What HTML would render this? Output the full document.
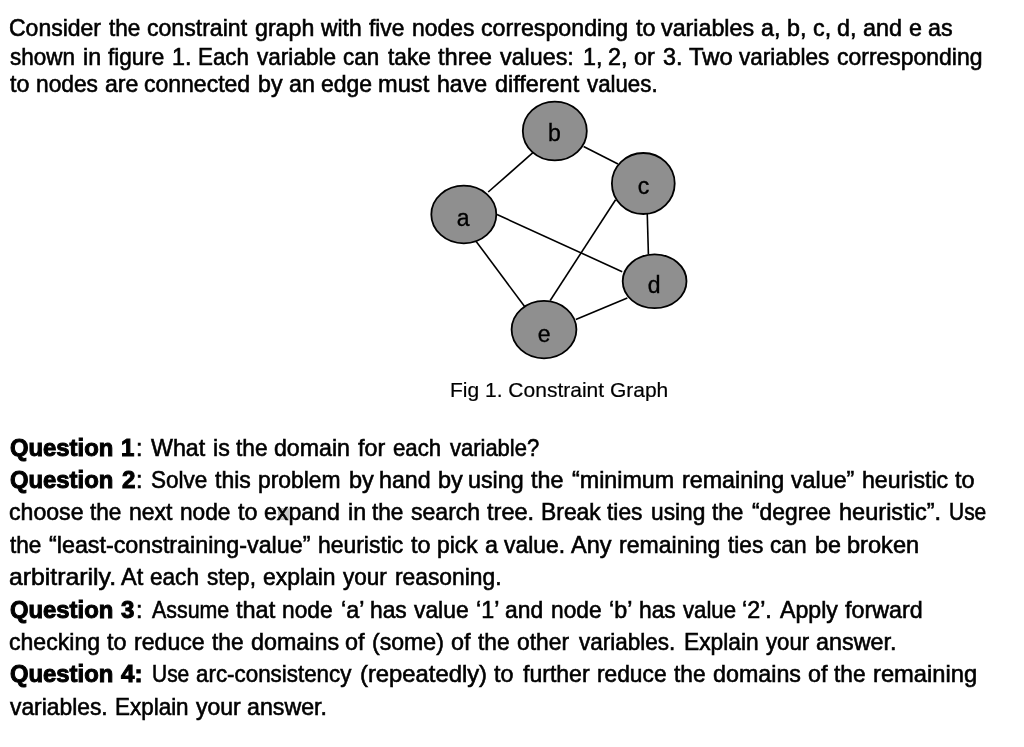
<!DOCTYPE html>
<html><head><meta charset="utf-8">
<style>
html,body{margin:0;padding:0;background:#fff;width:1024px;height:747px;overflow:hidden;position:relative}
.l{position:absolute;white-space:pre;font-family:"Liberation Sans",sans-serif;font-size:24px;line-height:24px;color:#000;transform-origin:0 0;-webkit-text-stroke:0.6px #000}
.b{font-weight:bold;-webkit-text-stroke:1px #000}
svg{position:absolute;left:0;top:0}
.hl{position:absolute;left:278px;top:507.8px;width:11px;height:12.7px;background:#c8c8c8}
</style></head><body>
<div class="hl"></div>
<div id="tx" style="position:absolute;left:0;top:0;width:1024px;height:747px;will-change:transform">
<div class="l" style="left:9.04px;top:15.88px;transform:scaleX(0.9579)">Consider</div>
<div class="l" style="left:109.00px;top:15.88px;transform:scaleX(0.9394)">the</div>
<div class="l" style="left:147.04px;top:15.88px;transform:scaleX(0.9615)">constraint</div>
<div class="l" style="left:255.03px;top:15.88px;transform:scaleX(0.9661)">graph</div>
<div class="l" style="left:321.00px;top:15.88px;transform:scaleX(0.9524)">with</div>
<div class="l" style="left:369.00px;top:15.88px;transform:scaleX(0.9459)">five</div>
<div class="l" style="left:412.05px;top:15.88px;transform:scaleX(0.9531)">nodes</div>
<div class="l" style="left:481.03px;top:15.88px;transform:scaleX(0.9667)">corresponding</div>
<div class="l" style="left:636.00px;top:15.88px;transform:scaleX(0.9708)">to</div>
<div class="l" style="left:661.00px;top:15.88px;transform:scaleX(0.9688)">variables</div>
<div class="l" style="left:761.03px;top:15.88px;transform:scaleX(0.9708)">a,</div>
<div class="l" style="left:787.03px;top:15.88px;transform:scaleX(0.9708)">b,</div>
<div class="l" style="left:813.03px;top:15.88px;transform:scaleX(0.9708)">c,</div>
<div class="l" style="left:837.03px;top:15.88px;transform:scaleX(0.9708)">d,</div>
<div class="l" style="left:863.03px;top:15.88px;transform:scaleX(0.9737)">and</div>
<div class="l" style="left:909.03px;top:15.88px;transform:scaleX(0.9708)">e</div>
<div class="l" style="left:928.03px;top:15.88px;transform:scaleX(0.9708)">as</div>
<div class="l" style="left:10.00px;top:44.58px;transform:scaleX(0.9353)">shown</div>
<div class="l" style="left:82.63px;top:44.58px;transform:scaleX(0.9710)">in</div>
<div class="l" style="left:107.81px;top:44.58px;transform:scaleX(0.9379)">figure</div>
<div class="l" style="left:172.12px;top:44.58px;transform:scaleX(0.9710)">1.</div>
<div class="l" style="left:197.87px;top:44.58px;transform:scaleX(0.9312)">Each</div>
<div class="l" style="left:257.15px;top:44.58px;transform:scaleX(0.9409)">variable</div>
<div class="l" style="left:343.25px;top:44.58px;transform:scaleX(0.9329)">can</div>
<div class="l" style="left:387.70px;top:44.58px;transform:scaleX(0.9467)">take</div>
<div class="l" style="left:438.47px;top:44.58px;transform:scaleX(0.9871)">three</div>
<div class="l" style="left:499.78px;top:44.58px;transform:scaleX(0.9704)">values:</div>
<div class="l" style="left:582.59px;top:44.58px;transform:scaleX(0.9710)">1,</div>
<div class="l" style="left:608.13px;top:44.58px;transform:scaleX(0.9710)">2,</div>
<div class="l" style="left:633.68px;top:44.58px;transform:scaleX(0.9710)">or</div>
<div class="l" style="left:663.26px;top:44.58px;transform:scaleX(0.9710)">3.</div>
<div class="l" style="left:688.80px;top:44.58px;transform:scaleX(0.9932)">Two</div>
<div class="l" style="left:739.30px;top:44.58px;transform:scaleX(0.9401)">variables</div>
<div class="l" style="left:836.59px;top:44.58px;transform:scaleX(0.9564)">corresponding</div>
<div class="l" style="left:10.00px;top:71.98px;transform:scaleX(0.9674)">to</div>
<div class="l" style="left:35.92px;top:71.98px;transform:scaleX(0.9479)">nodes</div>
<div class="l" style="left:104.57px;top:71.98px;transform:scaleX(0.9638)">are</div>
<div class="l" style="left:144.38px;top:71.98px;transform:scaleX(0.9582)">connected</div>
<div class="l" style="left:257.82px;top:71.98px;transform:scaleX(0.9674)">by</div>
<div class="l" style="left:288.67px;top:71.98px;transform:scaleX(0.9674)">an</div>
<div class="l" style="left:320.53px;top:71.98px;transform:scaleX(0.9561)">edge</div>
<div class="l" style="left:378.22px;top:71.98px;transform:scaleX(0.9843)">must</div>
<div class="l" style="left:436.60px;top:71.98px;transform:scaleX(0.9644)">have</div>
<div class="l" style="left:494.78px;top:71.98px;transform:scaleX(0.9750)">different</div>
<div class="l" style="left:586.60px;top:71.98px;transform:scaleX(0.9280)">values.</div>
<div class="l b" style="left:10.10px;top:435.68px;transform:scaleX(0.9932)">Question</div>
<div class="l b" style="left:120.60px;top:435.68px;transform:scaleX(1.0008)">1</div>
<div class="l" style="left:135.66px;top:435.68px;transform:scaleX(0.9691)">:</div>
<div class="l" style="left:151.40px;top:435.68px;transform:scaleX(0.9682)">What</div>
<div class="l" style="left:212.65px;top:435.68px;transform:scaleX(0.9691)">is</div>
<div class="l" style="left:235.70px;top:435.68px;transform:scaleX(0.9436)">the</div>
<div class="l" style="left:273.87px;top:435.68px;transform:scaleX(0.9645)">domain</div>
<div class="l" style="left:358.20px;top:435.68px;transform:scaleX(0.9691)">for</div>
<div class="l" style="left:392.97px;top:435.68px;transform:scaleX(0.9260)">each</div>
<div class="l" style="left:450.20px;top:435.68px;transform:scaleX(0.9155)">variable?</div>
<div class="l b" style="left:10.10px;top:468.48px;transform:scaleX(0.9932)">Question</div>
<div class="l b" style="left:121.80px;top:468.48px;transform:scaleX(1.0040)">2</div>
<div class="l" style="left:135.64px;top:468.48px;transform:scaleX(0.9787)">:</div>
<div class="l" style="left:150.86px;top:468.48px;transform:scaleX(0.9375)">Solve</div>
<div class="l" style="left:215.11px;top:468.48px;transform:scaleX(0.9602)">this</div>
<div class="l" style="left:257.69px;top:468.48px;transform:scaleX(0.9531)">problem</div>
<div class="l" style="left:348.68px;top:468.48px;transform:scaleX(0.9787)">by</div>
<div class="l" style="left:379.36px;top:468.48px;transform:scaleX(0.9680)">hand</div>
<div class="l" style="left:437.72px;top:468.48px;transform:scaleX(0.9787)">by</div>
<div class="l" style="left:468.39px;top:468.48px;transform:scaleX(0.9698)">using</div>
<div class="l" style="left:530.70px;top:468.48px;transform:scaleX(0.9697)">the</div>
<div class="l" style="left:572.10px;top:468.48px;transform:scaleX(0.9704)">“minimum</div>
<div class="l" style="left:682.05px;top:468.48px;transform:scaleX(0.9702)">remaining</div>
<div class="l" style="left:790.95px;top:468.48px;transform:scaleX(0.9685)">value”</div>
<div class="l" style="left:861.94px;top:468.48px;transform:scaleX(0.9636)">heuristic</div>
<div class="l" style="left:955.30px;top:468.48px;transform:scaleX(0.9787)">to</div>
<div class="l" style="left:9.04px;top:500.48px;transform:scaleX(0.9626)">choose</div>
<div class="l" style="left:90.15px;top:500.48px;transform:scaleX(0.9417)">the</div>
<div class="l" style="left:129.27px;top:500.48px;transform:scaleX(0.9577)">next</div>
<div class="l" style="left:180.39px;top:500.48px;transform:scaleX(0.9444)">node</div>
<div class="l" style="left:238.44px;top:500.48px;transform:scaleX(0.9695)">to</div>
<div class="l" style="left:263.53px;top:500.48px;transform:scaleX(0.9631)">expand</div>
<div class="l" style="left:347.68px;top:500.48px;transform:scaleX(0.9695)">in</div>
<div class="l" style="left:371.70px;top:500.48px;transform:scaleX(0.9417)">the</div>
<div class="l" style="left:410.77px;top:500.48px;transform:scaleX(0.9598)">search</div>
<div class="l" style="left:486.92px;top:500.48px;transform:scaleX(0.9806)">tree.</div>
<div class="l" style="left:541.07px;top:500.48px;transform:scaleX(0.9536)">Break</div>
<div class="l" style="left:607.15px;top:500.48px;transform:scaleX(0.9483)">ties</div>
<div class="l" style="left:651.29px;top:500.48px;transform:scaleX(0.9476)">using</div>
<div class="l" style="left:712.35px;top:500.48px;transform:scaleX(0.9417)">the</div>
<div class="l" style="left:752.43px;top:500.48px;transform:scaleX(0.9533)">“degree</div>
<div class="l" style="left:838.62px;top:500.48px;transform:scaleX(0.9812)">heuristic”.</div>
<div class="l" style="left:948.63px;top:500.48px;transform:scaleX(0.8732)">Use</div>
<div class="l" style="left:10.00px;top:532.88px;transform:scaleX(0.9394)">the</div>
<div class="l" style="left:49.00px;top:532.88px;transform:scaleX(0.9703)">“least-constraining-value”</div>
<div class="l" style="left:318.05px;top:532.88px;transform:scaleX(0.9545)">heuristic</div>
<div class="l" style="left:411.00px;top:532.88px;transform:scaleX(0.9730)">to</div>
<div class="l" style="left:437.05px;top:532.88px;transform:scaleX(0.9524)">pick</div>
<div class="l" style="left:485.03px;top:532.88px;transform:scaleX(0.9730)">a</div>
<div class="l" style="left:504.00px;top:532.88px;transform:scaleX(0.9524)">value.</div>
<div class="l" style="left:571.00px;top:532.88px;transform:scaleX(0.9762)">Any</div>
<div class="l" style="left:619.04px;top:532.88px;transform:scaleX(0.9612)">remaining</div>
<div class="l" style="left:728.00px;top:532.88px;transform:scaleX(0.9459)">ties</div>
<div class="l" style="left:770.05px;top:532.88px;transform:scaleX(0.9459)">can</div>
<div class="l" style="left:815.03px;top:532.88px;transform:scaleX(0.9730)">be</div>
<div class="l" style="left:847.02px;top:532.88px;transform:scaleX(0.9831)">broken</div>
<div class="l" style="left:8.97px;top:565.28px;transform:scaleX(1.0337)">arbitrarily.</div>
<div class="l" style="left:121.40px;top:565.28px;transform:scaleX(0.9786)">At</div>
<div class="l" style="left:150.06px;top:565.28px;transform:scaleX(0.9407)">each</div>
<div class="l" style="left:207.03px;top:565.28px;transform:scaleX(0.9403)">step,</div>
<div class="l" style="left:263.10px;top:565.28px;transform:scaleX(0.9546)">explain</div>
<div class="l" style="left:342.69px;top:565.28px;transform:scaleX(0.9380)">your</div>
<div class="l" style="left:394.83px;top:565.28px;transform:scaleX(0.9502)">reasoning.</div>
<div class="l b" style="left:10.10px;top:597.68px;transform:scaleX(0.9932)">Question</div>
<div class="l b" style="left:121.10px;top:597.68px;transform:scaleX(1.0016)">3</div>
<div class="l" style="left:136.06px;top:597.68px;transform:scaleX(0.9713)">:</div>
<div class="l" style="left:151.50px;top:597.68px;transform:scaleX(0.8907)">Assume</div>
<div class="l" style="left:236.13px;top:597.68px;transform:scaleX(0.9792)">that</div>
<div class="l" style="left:282.35px;top:597.68px;transform:scaleX(0.9462)">node</div>
<div class="l" style="left:340.53px;top:597.68px;transform:scaleX(0.9713)">‘a’</div>
<div class="l" style="left:369.65px;top:597.68px;transform:scaleX(0.9501)">has</div>
<div class="l" style="left:413.75px;top:597.68px;transform:scaleX(0.9513)">value</div>
<div class="l" style="left:476.00px;top:597.68px;transform:scaleX(0.9713)">‘1’</div>
<div class="l" style="left:505.13px;top:597.68px;transform:scaleX(0.9516)">and</div>
<div class="l" style="left:551.29px;top:597.68px;transform:scaleX(0.9462)">node</div>
<div class="l" style="left:609.47px;top:597.68px;transform:scaleX(0.9713)">‘b’</div>
<div class="l" style="left:638.60px;top:597.68px;transform:scaleX(0.9501)">has</div>
<div class="l" style="left:682.70px;top:597.68px;transform:scaleX(0.9246)">value</div>
<div class="l" style="left:742.03px;top:597.68px;transform:scaleX(0.9713)">‘2’.</div>
<div class="l" style="left:780.40px;top:597.68px;transform:scaleX(0.9636)">Apply</div>
<div class="l" style="left:845.22px;top:597.68px;transform:scaleX(0.9694)">forward</div>
<div class="l" style="left:9.04px;top:630.08px;transform:scaleX(0.9611)">checking</div>
<div class="l" style="left:107.38px;top:630.08px;transform:scaleX(0.9723)">to</div>
<div class="l" style="left:133.53px;top:630.08px;transform:scaleX(0.9626)">reduce</div>
<div class="l" style="left:211.79px;top:630.08px;transform:scaleX(0.9442)">the</div>
<div class="l" style="left:250.98px;top:630.08px;transform:scaleX(0.9705)">domains</div>
<div class="l" style="left:345.35px;top:630.08px;transform:scaleX(0.9723)">of</div>
<div class="l" style="left:372.47px;top:630.08px;transform:scaleX(0.9631)">(some)</div>
<div class="l" style="left:450.77px;top:630.08px;transform:scaleX(0.9723)">of</div>
<div class="l" style="left:477.84px;top:630.08px;transform:scaleX(0.9442)">the</div>
<div class="l" style="left:517.05px;top:630.08px;transform:scaleX(0.9500)">other</div>
<div class="l" style="left:579.10px;top:630.08px;transform:scaleX(0.9376)">variables.</div>
<div class="l" style="left:683.65px;top:630.08px;transform:scaleX(0.9480)">Explain</div>
<div class="l" style="left:765.59px;top:630.08px;transform:scaleX(0.9226)">your</div>
<div class="l" style="left:815.98px;top:630.08px;transform:scaleX(0.9730)">answer.</div>
<div class="l b" style="left:10.10px;top:662.48px;transform:scaleX(0.9932)">Question</div>
<div class="l b" style="left:120.70px;top:662.48px;transform:scaleX(1.0084)">4:</div>
<div class="l" style="left:151.63px;top:662.48px;transform:scaleX(0.8732)">Use</div>
<div class="l" style="left:195.97px;top:662.48px;transform:scaleX(0.9319)">arc-consistency</div>
<div class="l" style="left:359.51px;top:662.48px;transform:scaleX(0.9921)">(repeatedly)</div>
<div class="l" style="left:494.30px;top:662.48px;transform:scaleX(0.9706)">to</div>
<div class="l" style="left:522.60px;top:662.48px;transform:scaleX(0.9599)">further</div>
<div class="l" style="left:596.89px;top:662.48px;transform:scaleX(0.9477)">reduce</div>
<div class="l" style="left:674.07px;top:662.48px;transform:scaleX(0.9432)">the</div>
<div class="l" style="left:713.22px;top:662.48px;transform:scaleX(0.9696)">domains</div>
<div class="l" style="left:807.52px;top:662.48px;transform:scaleX(0.9706)">of</div>
<div class="l" style="left:833.56px;top:662.48px;transform:scaleX(0.9432)">the</div>
<div class="l" style="left:872.70px;top:662.48px;transform:scaleX(0.9885)">remaining</div>
<div class="l" style="left:10.00px;top:694.68px;transform:scaleX(0.9505)">variables.</div>
<div class="l" style="left:115.06px;top:694.68px;transform:scaleX(0.9351)">Explain</div>
<div class="l" style="left:196.00px;top:694.68px;transform:scaleX(0.9574)">your</div>
<div class="l" style="left:247.03px;top:694.68px;transform:scaleX(0.9663)">answer.</div>
</div>
<svg width="1024" height="747" viewBox="0 0 1024 747">
<g stroke="#000" stroke-width="1.6" fill="none">
<line x1="488.2" y1="192" x2="534.6" y2="151.2"/>
<line x1="583.6" y1="146.5" x2="618" y2="164"/>
<line x1="497" y1="214.5" x2="622.2" y2="271.7"/>
<line x1="476.2" y1="241.4" x2="524.6" y2="306.6"/>
<line x1="615.6" y1="199.7" x2="550.2" y2="300.5"/>
<line x1="647.2" y1="211.8" x2="648.4" y2="254.2"/>
<line x1="627.3" y1="298" x2="575.8" y2="319.6"/>
</g>
<g stroke="#000" stroke-width="1.8" fill="#8f8f8f">
<ellipse cx="554.8" cy="131" rx="32" ry="29.4"/>
<ellipse cx="643.3" cy="183.5" rx="31.4" ry="30.5"/>
<ellipse cx="463.8" cy="214.5" rx="32.5" ry="28.8"/>
<ellipse cx="654.6" cy="281.3" rx="31.9" ry="26.9"/>
<ellipse cx="544" cy="329.6" rx="32.4" ry="28.7"/>
</g>
<g font-family="Liberation Sans" font-size="23" text-anchor="middle" fill="#000" stroke="#000" stroke-width="0.35">
<text x="554.5" y="141">b</text>
<text x="643.4" y="194">c</text>
<text x="463.1" y="226">a</text>
<text x="654.2" y="293">d</text>
<text x="544.1" y="341.5">e</text>
</g>
<text x="450" y="397" font-family="Liberation Sans" font-size="21" fill="#000" stroke="#000" stroke-width="0.2">Fig 1. Constraint Graph</text>
</svg>
</body></html>
